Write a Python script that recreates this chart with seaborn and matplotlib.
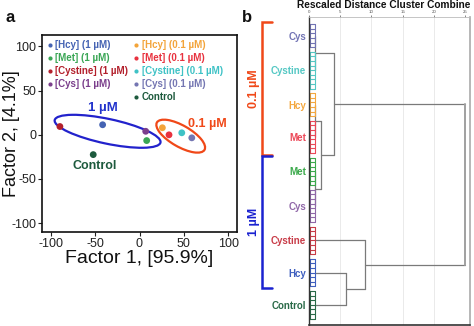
import numpy as np
import pandas as pd
import matplotlib
matplotlib.use("Agg")
import matplotlib.pyplot as plt
import seaborn as sns
from matplotlib.patches import Ellipse
from matplotlib.lines import Line2D
import matplotlib.transforms as mtransforms

sns.set_theme(style="ticks")
plt.rcParams['font.family'] = ['Liberation Sans', 'DejaVu Sans']
plt.rcParams['axes.unicode_minus'] = False

# ---------------- Panel a data ----------------
series = ["[Hcy] (1 µM)", "[Met] (1 µM)", "[Cystine] (1 µM)", "[Cys] (1 µM)",
          "[Hcy] (0.1 µM)", "[Met] (0.1 µM)", "[Cystine] (0.1 µM)", "[Cys] (0.1 µM)",
          "Control"]
factor1 = [-41.6, 8.1, -89.8, 7.0, 25.8, 33.3, 47.7, 59.0, -52.2]
factor2 = [11.4, -6.5, 9.4, 4.0, 8.0, 0.0, 2.3, -3.4, -22.4]
series_colors = ["#4563b3", "#3aa655", "#b3202c", "#7b3f8c",
                 "#f3a43a", "#e8323f", "#3fc2c6", "#7476b2", "#1d5a3d"]
ticks_a = [-100, -50, 0, 50, 100]

# ---------------- Panel b data ----------------
dendro_groups = ["Cys", "Cystine", "Hcy", "Met", "Met", "Cys", "Cystine", "Hcy", "Control"]
leaf_counts = [6, 9, 6, 8, 7, 8, 7, 7, 7]
group_colors = ["#7274b4", "#55c8c4", "#f4a840", "#ec4858",
                "#3caa4c", "#9068a8", "#c83c48", "#3f5fbf", "#2a6a48"]
within_height = 1.0
# merges: (child_a, child_b, rescaled distance); nodes 0-8 are groups
merges = [(0, 1, 1.0), (2, 3, 1.0), (4, 5, 1.0), (10, 11, 2.0),
          (9, 12, 4.05), (7, 8, 6.0), (6, 14, 9.0), (13, 15, 25.0)]
dist_ticks = [0, 5, 10, 15, 20, 25]

W, H = 474, 326
fig = plt.figure(figsize=(W / 100, H / 100), dpi=100)

# ================= Panel a =================
ax = fig.add_axes([42 / W, 1 - 232 / H, 195 / W, 197 / H])
df = pd.DataFrame({"f1": factor1, "f2": factor2, "series": series})
sns.scatterplot(data=df, x="f1", y="f2", hue="series",
                palette=dict(zip(series, series_colors)), s=24,
                edgecolor="none", legend=False, ax=ax, zorder=3)
ax.set_xlim(-110, 110)
ax.set_ylim(-110, 113)
ax.set_xticks(ticks_a)
ax.set_yticks(ticks_a)
ax.tick_params(axis="both", labelsize=9, length=3, width=0.8, pad=1,
               colors="#222222", labelcolor="#222222")
for sp in ax.spines.values():
    sp.set_color("#111111")
    sp.set_linewidth(1.2)
ax.set_xlabel("Factor 1, [95.9%]", fontsize=14, labelpad=0, color="#111111")
ax.set_ylabel("Factor 2, [4.1%]", fontsize=13, color="#111111")
ax.yaxis.set_label_coords(-0.112, 0.5)

# cluster ellipses (annotations)
ax.add_patch(Ellipse((-36, 4), 122, 28, angle=-12, fill=False,
                     edgecolor="#2222cc", linewidth=1.6, zorder=2))
ax.add_patch(Ellipse((46.5, -1.5), 62, 24, angle=-30, fill=False,
                     edgecolor="#f04818", linewidth=1.6, zorder=2))
ax.text(-41, 30, "1 µM", color="#2233cc", fontsize=9.5, fontweight="bold",
        ha="center", va="center")
ax.text(77, 12, "0.1 µM", color="#f04818", fontsize=9, fontweight="bold",
        ha="center", va="center")
ax.text(-51, -35, "Control", color="#1d5a3d", fontsize=9, fontweight="bold",
        ha="center", va="center")

def make_handles(idx):
    return [Line2D([], [], marker="o", linestyle="none", markersize=3,
                   markerfacecolor=series_colors[i], markeredgecolor="none")
            for i in idx]

idx1 = [0, 1, 2, 3]
idx2 = [4, 5, 6, 7, 8]
leg_kw = dict(frameon=False, borderpad=0, borderaxespad=0, handlelength=0.4,
              handletextpad=0.35, labelspacing=0.32,
              prop={"size": 7, "weight": "bold"}, loc="upper left")
leg1 = ax.legend(make_handles(idx1), [series[i] for i in idx1],
                 labelcolor=[series_colors[i] for i in idx1],
                 bbox_to_anchor=(0.03, 0.975), **leg_kw)
ax.add_artist(leg1)
leg2 = ax.legend(make_handles(idx2), [series[i] for i in idx2],
                 labelcolor=[series_colors[i] for i in idx2],
                 bbox_to_anchor=(0.474, 0.975), **leg_kw)

fig.text(10 / W, 1 - 18 / H, "a", fontsize=12, fontweight="bold",
         ha="center", va="center", color="#111111")

# ================= Panel b =================
axb = fig.add_axes([309 / W, 1 - 325 / H, 161 / W, (325 - 17.3) / H])
n_leaves = sum(leaf_counts)
starts = np.concatenate([[0], np.cumsum(leaf_counts)[:-1]])
centers = [s + (c - 1) / 2 for s, c in zip(starts, leaf_counts)]

# light grid
for t in dist_ticks[1:-1]:
    axb.axvline(t, color="#e6e6e6", linewidth=0.6, zorder=0)

# tree
node_y = list(centers)
node_h = [within_height] * len(centers)
for a, b, h in merges:
    ya, yb = node_y[a], node_y[b]
    axb.plot([node_h[a], h], [ya, ya], color="#7a7a7a", linewidth=0.9, zorder=1)
    axb.plot([node_h[b], h], [yb, yb], color="#7a7a7a", linewidth=0.9, zorder=1)
    axb.plot([h, h], [ya, yb], color="#7a7a7a" if h < 20 else "#a0a0a0",
             linewidth=0.9 if h < 20 else 1.4, zorder=1)
    node_y.append((ya + yb) / 2)
    node_h.append(h)

# leaf ladders
for g, (s, c) in enumerate(zip(starts, leaf_counts)):
    ys = np.arange(s, s + c)
    for y in ys:
        axb.plot([0, within_height], [y, y], color=group_colors[g], linewidth=0.8, zorder=2)
    axb.plot([within_height, within_height], [ys[0], ys[-1]], color=group_colors[g],
             linewidth=0.8, zorder=2)
    axb.plot([0.12, 0.12], [ys[0], ys[-1]], color=group_colors[g], linewidth=0.8, zorder=2)

axb.set_xlim(0, 25.8)
axb.set_ylim(65.4, -1.5)
axb.set_yticks(centers)
axb.set_yticklabels(dendro_groups)
for lab, col in zip(axb.get_yticklabels(), group_colors):
    lab.set_color(col)
    lab.set_fontweight("bold")
axb.tick_params(axis="y", length=0, pad=2, labelsize=7)
axb.xaxis.tick_top()
axb.set_xticks(dist_ticks)
axb.tick_params(axis="x", labelsize=3.2, length=1.5, width=0.5, pad=1,
                colors="#555555")
axb.spines["left"].set_color("#333333")
axb.spines["left"].set_linewidth(1.0)
axb.spines["bottom"].set_color("#333333")
axb.spines["bottom"].set_linewidth(1.2)
axb.spines["top"].set_color("#bbbbbb")
axb.spines["top"].set_linewidth(0.6)
axb.spines["right"].set_color("#aaaaaa")
axb.spines["right"].set_linewidth(1.2)

# concentration brackets
trans = mtransforms.blended_transform_factory(axb.transAxes, axb.transData)
brackets = [("0.1 µM", 0, 3, "#f04818"), ("1 µM", 4, 7, "#1a22d0")]
xl, xr, xt = -0.294, -0.232, -0.34
for text, g0, g1, col in brackets:
    y0 = starts[g0] - 0.4
    y1 = starts[g1] + leaf_counts[g1] - 1 + 0.4
    axb.plot([xr, xl, xl, xr], [y0, y0, y1, y1], color=col, linewidth=1.8,
             transform=trans, clip_on=False, solid_joinstyle="miter")
    axb.text(xt, (y0 + y1) / 2, text, color=col, fontsize=9, fontweight="bold",
             rotation=90, ha="center", va="center", transform=trans)

fig.text(297 / W, 1 - 5.5 / H, "Rescaled Distance Cluster Combine", fontsize=7.3,
         fontweight="bold", ha="left", va="center", color="#111111")
fig.text(247 / W, 1 - 17 / H, "b", fontsize=12, fontweight="bold",
         ha="center", va="center", color="#111111")

fig.savefig("out.png", dpi=100)
